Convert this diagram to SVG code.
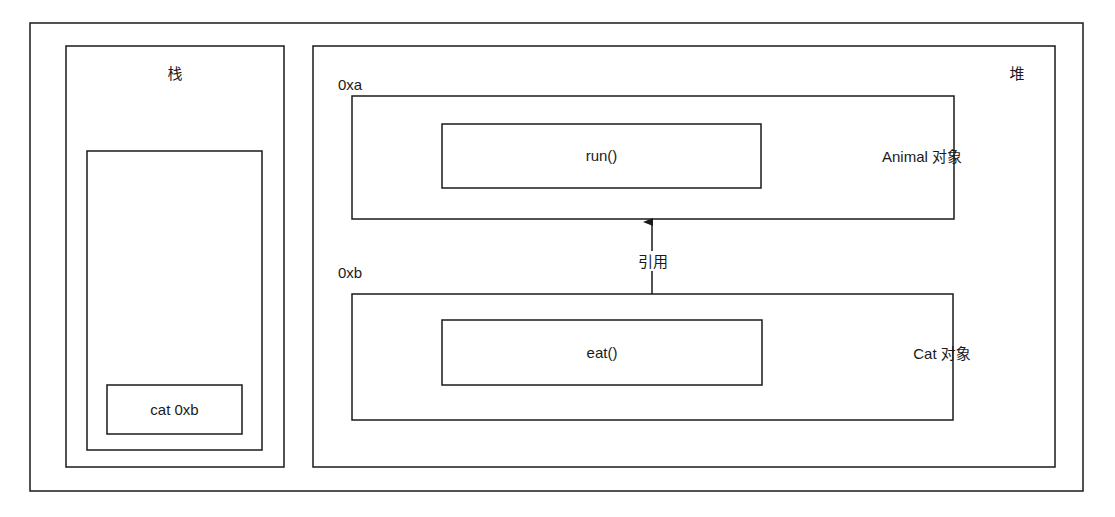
<svg xmlns="http://www.w3.org/2000/svg" width="1115" height="517" viewBox="0 0 1115 517">
<style>
rect{fill:#fff;stroke:#1a1a1a;stroke-width:1.5}
text{font-family:"Liberation Sans","Noto Sans CJK SC",sans-serif;font-size:15px;fill:#1a1a1a}
.c{text-anchor:middle}
</style>
<defs><marker id="a" markerWidth="10" markerHeight="10" refX="5" refY="9" orient="auto" markerUnits="userSpaceOnUse"><path d="M1,10 L5,0 L9,10 Z" fill="#1a1a1a"/></marker></defs>
<rect width="1115" height="517" style="stroke:none"/>
<g id="outer"><rect x="30" y="23" width="1053" height="468"/></g>
<g id="stack"><rect x="66" y="46" width="218" height="421"/><text x="175" y="79" class="c">栈</text></g>
<g id="stackInner"><rect x="87" y="151" width="175" height="299"/></g>
<g id="catRef"><rect x="107" y="385" width="135" height="49"/><text x="174.5" y="415" class="c">cat 0xb</text></g>
<g id="heap"><rect x="313" y="46" width="742" height="421"/><text x="1017" y="79" class="c">堆</text></g>
<g id="animal"><text x="338" y="90">0xa</text><rect x="352" y="96" width="602" height="123"/><text x="922" y="162" class="c">Animal 对象</text></g>
<g id="run"><rect x="442" y="124" width="319" height="64"/><text x="601.5" y="161" class="c">run()</text></g>
<g id="cat"><text x="338" y="278">0xb</text><rect x="352" y="294" width="601" height="126"/><text x="942" y="359" class="c">Cat 对象</text></g>
<g id="eat"><rect x="442" y="320" width="320" height="65"/><text x="602" y="358" class="c">eat()</text></g>
<g id="connectors"><line x1="652" y1="294" x2="652" y2="222" stroke="#1a1a1a" stroke-width="1.5" marker-end="url(#a)"/><rect x="636" y="251" width="34" height="20" style="stroke:none"/><text x="653" y="267" class="c">引用</text></g>
</svg>
